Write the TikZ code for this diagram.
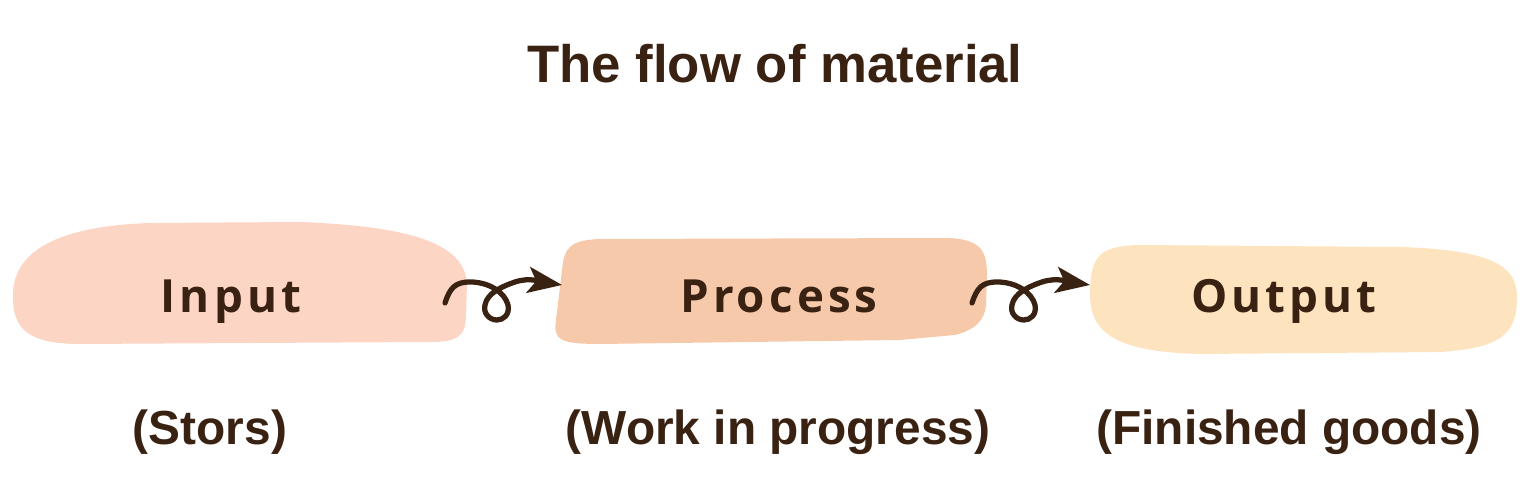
\documentclass[tikz,border=0pt]{standalone}
\usepackage{fontspec}
\setmainfont{Liberation Sans}
\newfontfamily\boxfont[LetterSpace=9]{Open Sans}
\usepackage{xcolor}
\usepackage{tikz}
\usetikzlibrary{arrows.meta}

\definecolor{ink}{HTML}{3A2213}
\definecolor{inputfill}{HTML}{FCD5C5}
\definecolor{processfill}{HTML}{F7C9AB}
\definecolor{outputfill}{HTML}{FDE3BE}

\begin{document}
\begin{tikzpicture}[
    x={(0.01cm,0)}, y={(0,-0.01cm)},
    title/.style={anchor=base, text=ink, font=\fontsize{15}{18}\selectfont\bfseries},
    stage/.style={anchor=base, text=ink, font=\boxfont\fontsize{13}{15}\selectfont\bfseries},
    note/.style={anchor=base, text=ink, font=\fontsize{13.6}{16}\selectfont\bfseries},
    loopy/.style={draw=ink, line width=1.5pt, line cap=round,
        -{Stealth[length=3.4mm,width=2.6mm,inset=0.8mm]}}
]
\useasboundingbox (0,0) rectangle (1536,477);

\fill[inputfill] (13,300) .. controls (10,250) and (60,226) .. (150,223) -- (300,222)
    .. controls (400,226) and (466,240) .. (467,285) -- (466,315)
    .. controls (466,338) and (455,342) .. (430,342) -- (80,344)
    .. controls (30,344) and (14,330) .. (13,300) -- cycle;
\fill[processfill] (556,320) -- (563,262) .. controls (566,245) and (575,240) .. (600,239)
    -- (950,238) .. controls (980,240) and (987,250) .. (987,275) -- (986,305)
    .. controls (985,320) and (975,330) .. (955,335) -- (900,340) -- (600,344)
    .. controls (560,344) and (553,340) .. (556,320) -- cycle;
\fill[outputfill] (1090,295) .. controls (1090,255) and (1100,246) .. (1140,245) -- (1400,247)
    .. controls (1490,250) and (1517,265) .. (1517,297)
    .. controls (1517,335) and (1500,348) .. (1440,352) -- (1200,354)
    .. controls (1120,352) and (1090,335) .. (1090,295) -- cycle;

\node[title] (head) at (775,83) {The flow of material};

\node[stage] (in) at (231,313) {Input};
\node[stage] (proc) at (779,313) {Process};
\node[stage] (out) at (1284,313) {Output};

\node[note] (inNote) at (210,445) {(Stors)};
\node[note] (procNote) at (778,445) {(Work in progress)};
\node[note] (outNote) at (1289,445) {(Finished goods)};

\coordinate (s1) at (445,303);
\coordinate (t1) at (562,285);
\coordinate (s2) at (972,303);
\coordinate (t2) at (1090,285);

\foreach \a/\b in {s1/t1, s2/t2}
    \draw[loopy] (\a) .. controls +(5,-15) and +(-15,0) .. ++(25,-21)
        .. controls +(20,0) and +(-3,-12) .. ++(38,23)
        .. controls +(2,10) and +(6,0) .. ++(-11,15)
        .. controls +(-8,0) and +(-2,8) .. ++(-12,-15)
        .. controls +(2,-12) and +(-12,4) .. ++(30,-23)
        .. controls +(15,-5) and +(-20,-3) .. (\b);
\end{tikzpicture}
\end{document}
